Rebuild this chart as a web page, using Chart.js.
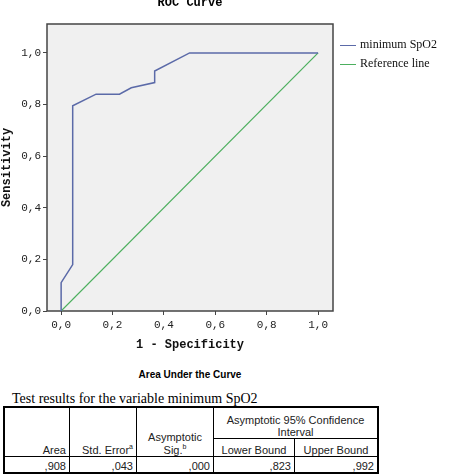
<!DOCTYPE html>
<html><head><meta charset="utf-8">
<script src="https://cdn.jsdelivr.net/npm/chart.js@4"></script>
<style>
body{margin:0;background:#fff;width:474px;height:474px;overflow:hidden;position:relative;font-family:"Liberation Sans",Arial,sans-serif}
#wrap{position:absolute;left:0;top:0;width:474px;height:356px}
.abs{position:absolute;white-space:nowrap}
table{position:absolute;left:3px;top:406px;border-collapse:collapse;font-size:11px;color:#222}
td{border:1px solid #000;padding:0 3px;text-align:right;vertical-align:bottom}
</style></head><body>
<div id="wrap"><canvas id="c" width="474" height="356"></canvas></div>
<div class="abs" style="left:0;width:380px;top:-4px;text-align:center;font:bold 12px 'Liberation Mono',monospace">ROC Curve</div>
<div class="abs" style="left:340px;top:37px;font:12px 'Liberation Serif',serif;color:#111"><span style="display:inline-block;width:16px;border-top:1px solid #5b6aa8;vertical-align:middle;margin-right:4px"></span>minimum SpO2</div>
<div class="abs" style="left:340px;top:56px;font:12px 'Liberation Serif',serif;color:#111"><span style="display:inline-block;width:16px;border-top:1px solid #4caf5e;vertical-align:middle;margin-right:4px"></span>Reference line</div>
<div class="abs" style="left:0;width:380px;top:369px;text-align:center;font:bold 10px 'Liberation Sans',Arial">Area Under the Curve</div>
<div class="abs" style="left:12px;top:391px;font:14px 'Liberation Serif',serif">Test results for the variable minimum SpO2</div>
<table>
<tr style="height:31px"><td rowspan="2" style="width:58px;border-left:2px solid #000;border-top:2px solid #000">Area</td><td rowspan="2" style="width:60px;border-top:2px solid #000">Std. Error<sup style="font-size:7px">a</sup></td><td rowspan="2" style="width:70px;border-top:2px solid #000;text-align:center">Asymptotic<br>Sig.<sup style="font-size:7px">b</sup></td><td colspan="2" style="text-align:center;border-top:2px solid #000;border-right:2px solid #000">Asymptotic 95% Confidence<br>Interval</td></tr>
<tr style="height:18px"><td style="width:74px;text-align:center">Lower Bound</td><td style="width:76px;text-align:center;border-right:2px solid #000">Upper Bound</td></tr>
<tr style="height:17px"><td style="border-left:2px solid #000;border-bottom:2px solid #000">,908</td><td style="border-bottom:2px solid #000">,043</td><td style="border-bottom:2px solid #000">,000</td><td style="border-bottom:2px solid #000">,823</td><td style="border-bottom:2px solid #000;border-right:2px solid #000">,992</td></tr>
</table>
<script>
const fpr=[0,0,0.045,0.045,0.136,0.227,0.273,0.364,0.364,0.5,1];
const tpr=[0,0.11,0.18,0.795,0.84,0.84,0.865,0.885,0.93,1,1];
const refX=[0,1];
const refY=[0,1];
const tickVals=[0,0.2,0.4,0.6,0.8,1];
const fmt=v=>v.toFixed(1).replace('.',',');
const bg={id:'bg',beforeDraw(c){const a=c.chartArea,x=c.ctx;x.save();x.fillStyle='#f0f0f0';x.fillRect(a.left,a.top,a.right-a.left,a.bottom-a.top);x.strokeStyle='#444';x.lineWidth=1.5;x.strokeRect(a.left,a.top,a.right-a.left,a.bottom-a.top);x.restore();}};
const tickFont={family:"'Liberation Mono',monospace",size:11};
const grid={drawOnChartArea:false,drawTicks:true,tickLength:4,color:'#444'};
new Chart(document.getElementById('c'),{type:'scatter',
data:{datasets:[
{data:fpr.map((x,i)=>({x,y:tpr[i]})),showLine:true,borderColor:'#5b6aa8',borderWidth:1.5,pointRadius:0,tension:0},
{data:refX.map((x,i)=>({x,y:refY[i]})),showLine:true,borderColor:'#4caf5e',borderWidth:1.2,pointRadius:0}]},
options:{responsive:false,animation:false,layout:{padding:{top:24,right:141,left:0,bottom:0}},
plugins:{legend:{display:false},tooltip:{enabled:false}},
scales:{
x:{min:-0.055,max:1.058,afterBuildTicks:a=>{a.ticks=tickVals.map(v=>({value:v}))},afterFit:a=>{a.height=45},
grid:grid,border:{display:false},ticks:{callback:fmt,color:'#222',font:tickFont,maxRotation:0,padding:3},
title:{display:true,text:'1 - Specificity',font:{family:"'Liberation Mono',monospace",size:12,weight:'bold'},color:'#111',padding:{top:6}}},
y:{min:0,max:1.112,afterBuildTicks:a=>{a.ticks=tickVals.map(v=>({value:v}))},afterFit:a=>{a.width=47},
grid:grid,border:{display:false},ticks:{callback:fmt,color:'#222',font:tickFont,padding:2},
title:{display:true,text:'Sensitivity',font:{family:"'Liberation Mono',monospace",size:12,weight:'bold'},color:'#111',padding:0}}}},
plugins:[bg]});
</script></body></html>
